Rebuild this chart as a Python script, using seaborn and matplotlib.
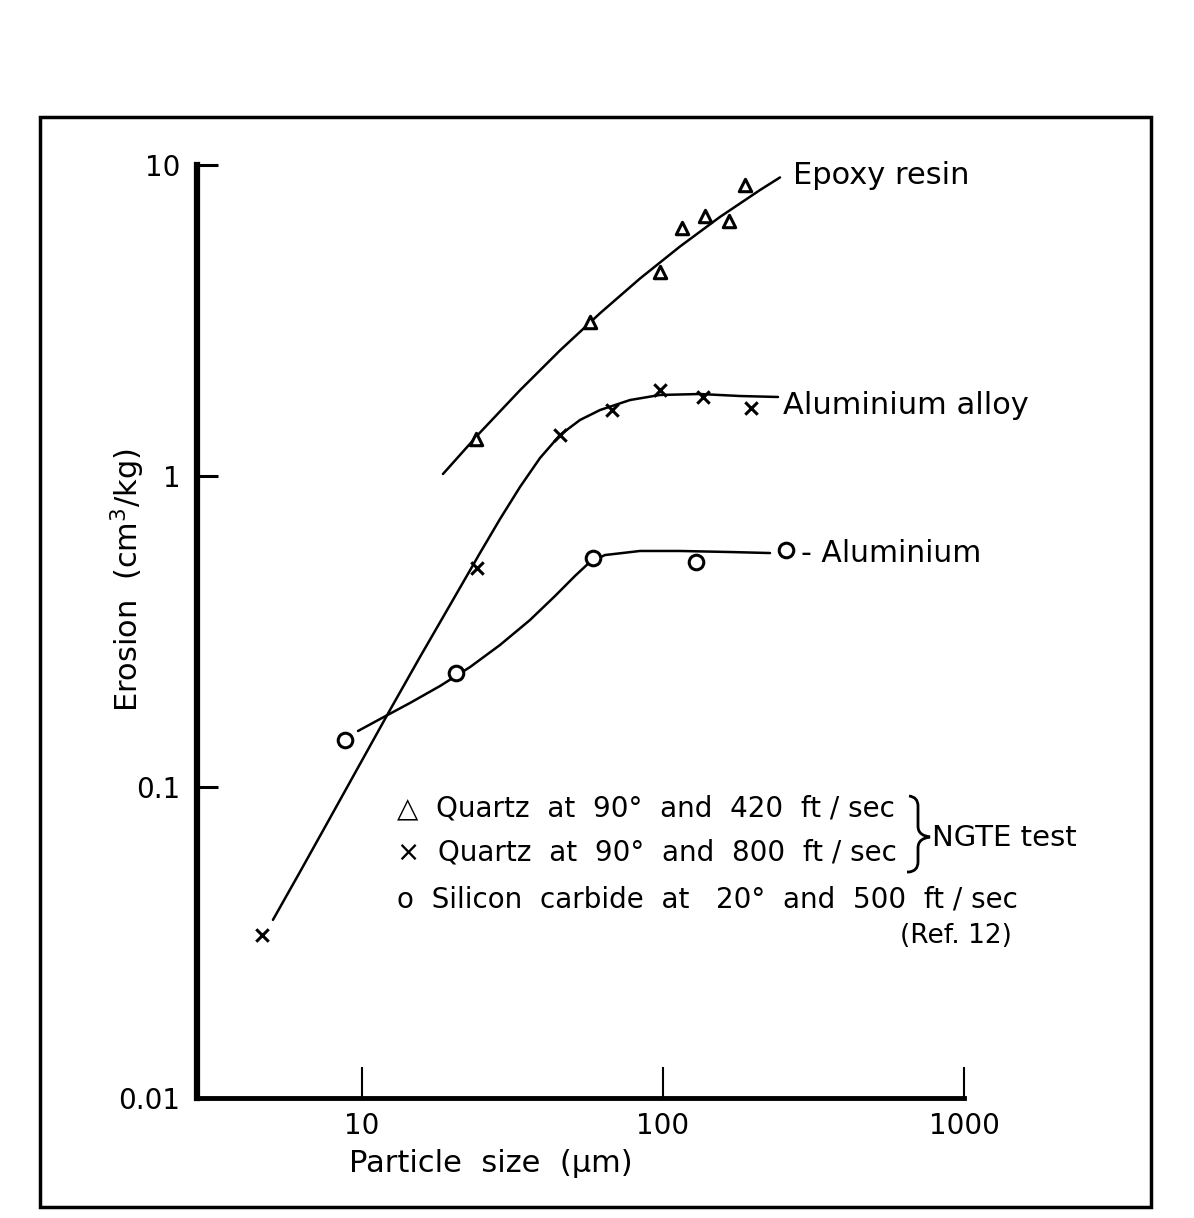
import numpy as np
import pandas as pd
import matplotlib
matplotlib.use("Agg")
import matplotlib.pyplot as plt
import seaborn as sns
from matplotlib.patches import Rectangle, PathPatch
from matplotlib.path import Path

epoxy_size = [24, 57, 98, 116, 138, 166, 187]
epoxy_erosion = [1.32, 3.13, 4.53, 6.27, 6.86, 6.6, 8.6]
alloy_size = [4.66, 24.1, 45.5, 67.6, 97.7, 136, 196]
alloy_erosion = [0.0334, 0.506, 1.35, 1.63, 1.89, 1.79, 1.66]
al_size = [8.8, 20.5, 58.5, 129, 256]
al_erosion = [0.142, 0.233, 0.545, 0.529, 0.578]

# ---- hand-drawn trend curves ----
epoxy_curve_x = [18.58, 24.66, 33.49, 45.48, 61.8, 83.87, 113.9, 154.7, 210.1, 244.7]
epoxy_curve_y = [1.015, 1.379, 1.887, 2.534, 3.338, 4.315, 5.47, 6.81, 8.31, 9.12]
alloy_curve_x = [5.06, 6.22, 7.83, 9.85, 12.39, 15.58, 19.61, 24.66, 28.74, 33.49, 39.03,
                 45.48, 53.0, 61.8, 77.7, 97.7, 132.7, 180.3, 241]
alloy_curve_y = [0.0374, 0.0533, 0.0795, 0.1186, 0.1769, 0.2618, 0.3848, 0.5655, 0.7272, 0.922, 1.1426,
                 1.3545, 1.514, 1.630, 1.755, 1.822, 1.835, 1.808, 1.795]
al_curve_x = [9.70, 11.48, 14.44, 18.16, 22.85, 28.74, 36.15, 43.78, 51.0, 57.2, 64.16, 83.87, 113.9, 167.0, 226.7]
al_curve_y = [0.1514, 0.1654, 0.1863, 0.2112, 0.2430, 0.2862, 0.3443, 0.4113, 0.4771, 0.5291, 0.557,
              0.574, 0.574, 0.5696, 0.5653]

x_ticks = [10, 100, 1000]
x_ticklabels = ["10", "100", "1000"]
y_ticks = [0.01, 0.1, 1, 10]
y_ticklabels = ["0.01", "0.1", "1", "10"]

sns.set_theme(style="white")
plt.rcParams["font.family"] = ["DejaVu Sans"]
plt.rcParams["text.color"] = "black"

W, H = 1194, 1218
fig = plt.figure(figsize=(W / 100, H / 100), dpi=100)
fig.patch.set_facecolor("white")
ax = fig.add_axes([197 / W, 1 - 1098 / H, (964 - 197) / W, (1098 - 165) / H])
ax.set_facecolor("white")
ax.set_xscale("log")
ax.set_yscale("log")

curves = [(epoxy_curve_x, epoxy_curve_y), (alloy_curve_x, alloy_curve_y), (al_curve_x, al_curve_y)]
for cx, cy in curves:
    df = pd.DataFrame({"x": cx, "y": cy})
    sns.lineplot(data=df, x="x", y="y", sort=False, color="black", lw=1.8, ax=ax)
for line in ax.get_lines():
    line.set_solid_joinstyle("round")
    line.set_solid_capstyle("round")

pts = [(epoxy_size, epoxy_erosion, "^", 80), (alloy_size, alloy_erosion, "x", 80), (al_size, al_erosion, "o", 110)]
for sx, sy, mk, s in pts:
    df = pd.DataFrame({"x": sx, "y": sy})
    if mk == "x":
        sns.scatterplot(data=df, x="x", y="y", marker=mk, s=s, color="black", linewidth=2.2, ax=ax, zorder=3)
    else:
        sns.scatterplot(data=df, x="x", y="y", marker=mk, s=s, facecolor="white", edgecolor="black",
                        linewidth=2.2, ax=ax, zorder=3)

ax.set_xlim(10 ** (1 - (362 - 197) / 301), 1000)
ax.set_ylim(0.01, 10)
ax.xaxis.set_major_locator(matplotlib.ticker.FixedLocator(x_ticks))
ax.xaxis.set_major_formatter(matplotlib.ticker.FixedFormatter(x_ticklabels))
ax.xaxis.set_minor_locator(matplotlib.ticker.NullLocator())
ax.yaxis.set_major_locator(matplotlib.ticker.FixedLocator(y_ticks))
ax.yaxis.set_major_formatter(matplotlib.ticker.FixedFormatter(y_ticklabels))
ax.yaxis.set_minor_locator(matplotlib.ticker.NullLocator())
ax.tick_params(axis="x", bottom=True, direction="in", length=22, width=1.5, labelsize=20, pad=10,
               colors="black", labelcolor="black")
ax.tick_params(axis="y", left=True, direction="in", length=15, width=2.2, labelsize=20, pad=12,
               colors="black", labelcolor="black")
for side in ["top", "right"]:
    ax.spines[side].set_visible(False)
ax.spines["left"].set_linewidth(4.5)
ax.spines["bottom"].set_linewidth(3.5)
ax.spines["left"].set_color("black")
ax.spines["bottom"].set_color("black")
ax.set_xlabel("")
ax.set_ylabel("")

# axis titles
fig.text(491 / W, 1 - 1163 / H, "Particle  size  (μm)", ha="center", va="center", fontsize=22)
fig.text(128 / W, 1 - 580 / H, "Erosion  (cm$^3$/kg)", ha="center", va="center", rotation=90, fontsize=22)

# curve labels
fig.text(793 / W, 1 - 175 / H, "Epoxy resin", ha="left", va="center", fontsize=22)
fig.text(783 / W, 1 - 406 / H, "Aluminium alloy", ha="left", va="center", fontsize=22)
fig.text(801 / W, 1 - 554 / H, "- Aluminium", ha="left", va="center", fontsize=21.5)

# key
fs = 20
fig.text(397 / W, 1 - 808 / H, "△  Quartz  at  90°  and  420  ft / sec", ha="left", va="center", fontsize=fs)
fig.text(397 / W, 1 - 852 / H, "×  Quartz  at  90°  and  800  ft / sec", ha="left", va="center", fontsize=fs)
fig.text(397 / W, 1 - 900 / H, "o  Silicon  carbide  at   20°  and  500  ft / sec", ha="left", va="center", fontsize=fs)
fig.text(1012 / W, 1 - 936 / H, "(Ref. 12)", ha="right", va="center", fontsize=19)
fig.text(932 / W, 1 - 838 / H, "NGTE test", ha="left", va="center", fontsize=21)

# brace
def fx(px):
    return px / W

def fy(py):
    return 1 - py / H

bx = 909
verts = [(fx(bx), fy(796)), (fx(bx + 9), fy(797)), (fx(bx + 9), fy(806)),
         (fx(bx + 9), fy(826)),
         (fx(bx + 9), fy(834)), (fx(bx + 15), fy(836)), (fx(bx + 21), fy(837)),
         (fx(bx + 15), fy(838)), (fx(bx + 9), fy(840)), (fx(bx + 9), fy(848)),
         (fx(bx + 9), fy(862)),
         (fx(bx + 9), fy(871)), (fx(bx), fy(872)), (fx(bx - 2), fy(872))]
codes = [Path.MOVETO, Path.CURVE3, Path.CURVE3, Path.LINETO,
         Path.CURVE4, Path.CURVE4, Path.CURVE4,
         Path.CURVE4, Path.CURVE4, Path.CURVE4,
         Path.LINETO, Path.CURVE3, Path.CURVE3, Path.LINETO]
fig.patches.append(PathPatch(Path(verts, codes), transform=fig.transFigure, fill=False, lw=2, edgecolor="black"))

# outer frame
fig.patches.append(Rectangle((40 / W, 1 - 1207 / H), (1151 - 40) / W, (1207 - 117) / H,
                             transform=fig.transFigure, fill=False, lw=2.5, edgecolor="black"))

fig.savefig("out.png", dpi=100, facecolor="white")
